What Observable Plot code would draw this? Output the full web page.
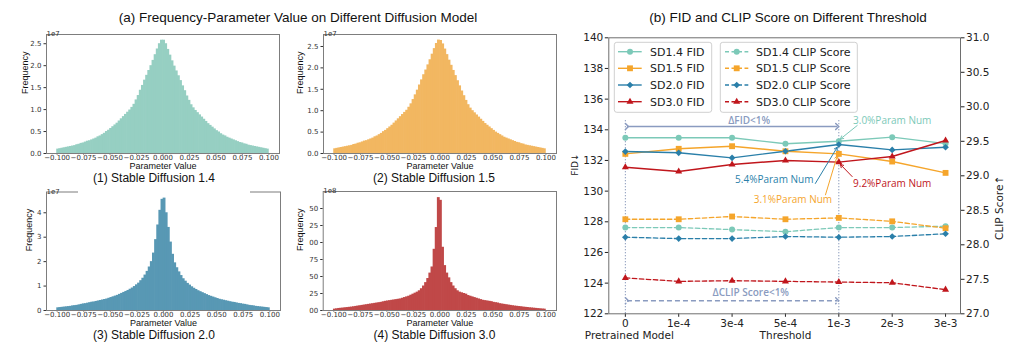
<!DOCTYPE html>
<html><head><meta charset="utf-8">
<script src="https://cdn.jsdelivr.net/npm/d3@7"></script>
<script src="https://cdn.jsdelivr.net/npm/@observablehq/plot@0.6"></script>
<style>
html,body{margin:0;padding:0;background:#fff;}
#page{position:relative;width:1032px;height:355px;overflow:hidden;background:#fff;}
.title{position:absolute;font-family:"Liberation Sans",Arial,sans-serif;font-size:13.5px;color:#111;white-space:nowrap;transform:translate(-50%,-50%);line-height:1.15;}
</style></head>
<body><div id="page"></div>
<script>
// ---------------- DATA ----------------
// Histograms: 100 bins of width 0.002 from -0.1 to 0.1
const binStart = -0.1, binWidth = 0.002;
const paramTicks = [-0.1, -0.075, -0.05, -0.025, 0, 0.025, 0.05, 0.075, 0.1];
// SD1.4 (x1e7)
const freqSD14 = [0.10,0.11,0.12,0.13,0.14,0.15,0.16,0.17,0.18,0.20,0.21,0.23,0.24,0.26,0.28,0.29,0.31,0.33,0.35,0.38,
  0.40,0.43,0.46,0.50,0.53,0.57,0.61,0.65,0.69,0.74,0.79,0.84,0.89,0.94,0.99,1.05,1.12,1.22,1.32,1.44,
  1.55,1.67,1.78,1.89,2.00,2.12,2.25,2.38,2.50,2.58,
  2.58,2.50,2.37,2.24,2.11,1.99,1.88,1.77,1.66,1.54,1.43,1.31,1.21,1.11,1.04,0.98,0.93,0.88,0.83,0.78,
  0.73,0.68,0.64,0.60,0.56,0.52,0.49,0.45,0.42,0.40,0.37,0.35,0.33,0.31,0.29,0.27,0.25,0.24,0.22,0.21,
  0.19,0.18,0.17,0.16,0.15,0.14,0.13,0.12,0.11,0.10];
// SD1.5 (x1e7)
const freqSD15 = [0.11,0.12,0.13,0.14,0.15,0.16,0.17,0.18,0.19,0.21,0.22,0.24,0.25,0.27,0.29,0.30,0.32,0.34,0.36,0.39,
  0.41,0.44,0.47,0.51,0.54,0.58,0.62,0.66,0.71,0.76,0.81,0.86,0.91,0.96,1.01,1.08,1.16,1.26,1.37,1.48,
  1.60,1.72,1.84,1.95,2.07,2.19,2.32,2.45,2.57,2.65,
  2.64,2.56,2.44,2.31,2.18,2.06,1.94,1.82,1.70,1.58,1.46,1.35,1.24,1.14,1.06,1.00,0.95,0.90,0.85,0.80,
  0.75,0.70,0.66,0.62,0.58,0.54,0.50,0.47,0.44,0.41,0.38,0.36,0.34,0.32,0.30,0.28,0.26,0.25,0.23,0.22,
  0.20,0.19,0.18,0.17,0.16,0.15,0.14,0.13,0.12,0.11];
// SD2.0 (x1e7)
const freqSD20 = [0.11,0.12,0.13,0.14,0.15,0.16,0.17,0.19,0.20,0.21,0.23,0.25,0.27,0.28,0.30,0.32,0.34,0.35,0.37,0.39,
  0.41,0.43,0.45,0.47,0.50,0.53,0.56,0.59,0.62,0.66,0.70,0.74,0.78,0.82,0.87,0.92,0.98,1.05,1.12,1.22,
  1.32,1.45,1.60,1.78,2.00,2.35,2.90,3.50,4.10,4.55,
  4.60,4.00,3.40,2.80,2.30,1.95,1.75,1.58,1.43,1.30,1.20,1.11,1.04,0.97,0.91,0.86,0.81,0.77,0.73,0.69,
  0.65,0.61,0.58,0.55,0.52,0.49,0.46,0.44,0.42,0.40,0.38,0.36,0.34,0.33,0.31,0.29,0.28,0.26,0.25,0.23,
  0.21,0.20,0.19,0.17,0.16,0.15,0.14,0.13,0.12,0.11];
// SD3.0 (x1e8)
const freqSD30 = [0.020,0.025,0.030,0.033,0.036,0.040,0.043,0.047,0.050,0.055,0.060,0.065,0.070,0.075,0.080,0.085,0.090,0.095,0.100,0.105,
  0.110,0.115,0.120,0.128,0.135,0.140,0.145,0.150,0.155,0.160,0.165,0.170,0.180,0.190,0.200,0.210,0.225,0.240,0.255,0.270,
  0.290,0.320,0.360,0.410,0.470,0.550,0.640,0.900,1.220,1.660,
  1.620,0.930,0.660,0.550,0.480,0.410,0.360,0.320,0.290,0.270,0.260,0.250,0.240,0.220,0.210,0.200,0.190,0.180,0.170,0.160,
  0.150,0.145,0.140,0.135,0.130,0.120,0.115,0.110,0.100,0.095,0.090,0.085,0.080,0.075,0.070,0.065,0.062,0.058,0.055,0.050,
  0.047,0.044,0.040,0.037,0.034,0.031,0.028,0.025,0.022,0.020];
const yTicksSD14 = [0, 0.5, 1, 1.5, 2, 2.5];
const yTicksSD20 = [0, 1, 2, 3, 4];
const yTicksSD30 = [0, 0.25, 0.5, 0.75, 1, 1.25, 1.5];
const yLabelsSD30 = ["00", "25", "50", "75", "00", "25", "50"];

// Right chart
const thresholds = ["0", "1e-4", "3e-4", "5e-4", "1e-3", "2e-3", "3e-3"];
const fidTicks = [122, 124, 126, 128, 130, 132, 134, 136, 138, 140];
const clipTicks = [27.0, 27.5, 28.0, 28.5, 29.0, 29.5, 30.0, 30.5, 31.0];
const fidSD14 = [133.48, 133.48, 133.48, 133.09, 133.25, 133.52, 133.10];
const fidSD15 = [132.43, 132.76, 132.93, 132.60, 132.43, 131.93, 131.19];
const fidSD20 = [132.58, 132.50, 132.17, 132.60, 133.04, 132.69, 132.86];
const fidSD30 = [131.56, 131.28, 131.74, 132.00, 131.89, 132.26, 133.30];
const clipSD14 = [28.25, 28.25, 28.22, 28.19, 28.25, 28.25, 28.27];
const clipSD15 = [28.37, 28.37, 28.41, 28.37, 28.39, 28.34, 28.24];
const clipSD20 = [28.11, 28.09, 28.09, 28.12, 28.11, 28.12, 28.16];
const clipSD30 = [27.52, 27.47, 27.48, 27.47, 27.46, 27.45, 27.35];
const modelNames = ["SD1.4", "SD1.5", "SD2.0", "SD3.0"];
const paramNotes = ["3.0%Param Num", "3.1%Param Num", "5.4%Param Num", "9.2%Param Num"];

// ---------------- STYLE ----------------
const page = document.getElementById("page");
const COL = {"SD1.4": "#7cc9b8", "SD1.5": "#f5a52b", "SD2.0": "#2a7fa9", "SD3.0": "#c0161c"};
const SYM = {"SD1.4": ["circle", 3.0, d3.symbolCircle], "SD1.5": ["square", 3.3, d3.symbolSquare],
             "SD2.0": ["diamond2", 3.0, d3.symbolDiamond2], "SD3.0": ["triangle", 2.6, d3.symbolTriangle]};
const ANNO = "#8a9bc0";

function addTitle(text, cx, cy) {
  const d = document.createElement("div");
  d.className = "title"; d.textContent = text;
  d.style.left = cx + "px"; d.style.top = cy + "px";
  page.appendChild(d);
}
addTitle("(a) Frequency-Parameter Value on Different Diffusion Model", 298, 17.5);
addTitle("(b) FID and CLIP Score on Different Threshold", 788, 17.5);

function histogram(values, o) {
  const bins = values.map((v, i) => ({a: binStart + i * binWidth, b: binStart + (i + 1) * binWidth, v}));
  const W = 290, H = 192;
  const svg = Plot.plot({
    width: W, height: H,
    marginLeft: o.frame[0], marginRight: W - o.frame[1], marginTop: o.frame[2], marginBottom: H - o.frame[3],
    style: {background: "transparent", fontFamily: "DejaVu Sans", fontSize: "7px", color: "#333", overflow: "visible"},
    x: {domain: [-0.11, 0.11], ticks: paramTicks, tickFormat: d3.format(".3f"), tickSize: 1.5, tickPadding: 0, label: null},
    y: {domain: [0, o.ymax], ticks: o.yTicks, tickFormat: o.yFormat, tickSize: 2.5, tickPadding: 2.5, label: null},
    marks: [
      Plot.rect(bins, {x1: "a", x2: "b", y1: 0, y2: "v", fill: o.color, insetLeft: -0.35, insetRight: -0.35}),
      Plot.frame({stroke: "#7d7d7d", strokeWidth: 1}),
      Plot.text([o.exp], {text: d => d, frameAnchor: "top-left", dy: -3, textAnchor: "start", fontSize: 7, fill: "#333"}),
      Plot.text(["Frequency"], {text: d => d, frameAnchor: "left", dx: o.freqDx, rotate: -90, fontFamily: "Liberation Sans", fontSize: 9, fill: "#111"}),
      Plot.text(["Parameter Value"], {text: d => d, frameAnchor: "bottom", dy: 15.3, fontFamily: "Liberation Sans", fontSize: 9, fill: "#111"}),
      Plot.text([o.subtitle], {text: d => d, frameAnchor: "bottom", dx: o.subDx, dy: 28, fontFamily: "Liberation Sans", fontSize: 12, fill: "#111"})
    ]
  });
  svg.style.position = "absolute"; svg.style.left = o.left + "px"; svg.style.top = o.top + "px";
  page.appendChild(svg);
}

histogram(freqSD14, {left: 0, top: 0, frame: [46, 279, 34, 153], ymax: 2.71, yTicks: yTicksSD14, yFormat: d3.format(".1f"),
  color: "#96cfc2", exp: "1e7", freqDx: -21, subDx: -9, subtitle: "(1) Stable Diffusion 1.4"});
histogram(freqSD15, {left: 280, top: 0, frame: [43, 276, 34, 153], ymax: 2.78, yTicks: yTicksSD14, yFormat: d3.format(".1f"),
  color: "#f2b761", exp: "1e7", freqDx: -23, subDx: -6, subtitle: "(2) Stable Diffusion 1.5"});
histogram(freqSD20, {left: 0, top: 160, frame: [46, 280, 31.5, 150], ymax: 4.85, yTicks: yTicksSD20, yFormat: d3.format("d"),
  color: "#5898b4", exp: "1e7", freqDx: -17, subDx: -9.5, subtitle: "(3) Stable Diffusion 2.0"});
histogram(freqSD30, {left: 280, top: 160, frame: [42.7, 276, 31, 150], ymax: 1.75, yTicks: yTicksSD30, yFormat: (d, i) => yLabelsSD30[i],
  color: "#c04848", exp: "1e8", freqDx: -22.7, subDx: -5.4, subtitle: "(4) Stable Diffusion 3.0"});

// gap in panel 3's top border (covered by the subtitle above it)
const gap = document.createElement("div");
gap.style.cssText = "position:absolute;left:78px;top:189.5px;width:172px;height:4px;background:#fff;";
page.appendChild(gap);

// ---------------- RIGHT CHART ----------------
const rc = document.createElement("div");
rc.style.cssText = "position:absolute;left:566px;top:0;width:466px;height:355px;overflow:hidden;";
page.appendChild(rc);
const RW = 466, RH = 355;
const M = {marginLeft: 42.3, marginRight: 72, marginTop: 37.3, marginBottom: 41.7};
const xDom = [-0.31, 6.28];
const fidSeries = {"SD1.4": fidSD14, "SD1.5": fidSD15, "SD2.0": fidSD20, "SD3.0": fidSD30};
const clipSeries = {"SD1.4": clipSD14, "SD1.5": clipSD15, "SD2.0": clipSD20, "SD3.0": clipSD30};
const pts = arr => arr.map((v, i) => ({i, v}));

// annotation placements (data units)
const noteLayout = {
  "3.0%Param Num": {c: COL["SD1.4"], tx: 5.0, ty: 134.56, x1: 4.345, y1: 134.28, x2: 4.03, y2: 133.40},
  "3.1%Param Num": {c: COL["SD1.5"], tx: 3.14, ty: 129.45, x1: 3.75, y1: 129.76, x2: 3.97, y2: 132.30},
  "5.4%Param Num": {c: COL["SD2.0"], tx: 2.79, ty: 130.76, x1: 3.56, y1: 130.50, x2: 3.97, y2: 132.86},
  "9.2%Param Num": {c: COL["SD3.0"], tx: 5.0, ty: 130.48, x1: 4.25, y1: 130.95, x2: 4.03, y2: 131.74}
};

const fidPlot = Plot.plot({
  width: RW, height: RH, ...M,
  style: {background: "transparent", fontFamily: "DejaVu Sans", fontSize: "10.5px", color: "#222", overflow: "visible"},
  x: {domain: xDom, ticks: d3.range(thresholds.length), tickFormat: i => thresholds[i], tickSize: 3.5, tickPadding: 2, label: null},
  y: {domain: [122, 140], ticks: fidTicks, tickSize: 3.5, tickPadding: 2, label: null},
  marks: [
    Plot.ruleX([0, 4], {y1: 122, y2: 134.67, stroke: "#7f90b5", strokeWidth: 1, strokeDasharray: "1.2,1.8"}),
    Plot.link([0], {x1: 0.03, x2: 3.97, y1: 134.21, y2: 134.21, markerStart: "arrow", markerEnd: "arrow", stroke: ANNO, strokeWidth: 1.5}),
    Plot.text(["ΔFID<1%"], {text: d => d, x: 2.32, y: 134.56, fill: ANNO, fontFamily: "Open Sans", fontWeight: 600, fontSize: 10}),
    ...modelNames.map(k => Plot.line(pts(fidSeries[k]), {x: "i", y: "v", stroke: COL[k], strokeWidth: 1.4})),
    ...modelNames.map(k => Plot.dot(pts(fidSeries[k]), {x: "i", y: "v", fill: COL[k], symbol: SYM[k][0], r: SYM[k][1]})),
    ...paramNotes.flatMap(n => {
      const L = noteLayout[n];
      return [
        Plot.arrow([n], {x1: L.x1, y1: L.y1, x2: L.x2, y2: L.y2, stroke: L.c, strokeWidth: 1, headLength: 5}),
        Plot.text([n], {text: d => d, x: L.tx, y: L.ty, fill: L.c, fontFamily: "Open Sans", fontSize: 10})
      ];
    }),
    Plot.frame({stroke: "#6e6e6e", strokeWidth: 1}),
    Plot.text(["Pretrained Model"], {text: d => d, x: 0, frameAnchor: "bottom", dx: 4, dy: 25, fontSize: 10.5, fill: "#222"}),
    Plot.text(["Threshold"], {text: d => d, x: 3, frameAnchor: "bottom", dy: 25, fontSize: 10.5, fill: "#222"}),
    Plot.text(["FID↓"], {text: d => d, frameAnchor: "left", dx: -34, rotate: -90, fontSize: 9, fill: "#222"})
  ]
});
fidPlot.style.position = "absolute"; fidPlot.style.left = "0px"; fidPlot.style.top = "0px";
rc.appendChild(fidPlot);

const clipPlot = Plot.plot({
  width: RW, height: RH, ...M,
  style: {background: "transparent", fontFamily: "DejaVu Sans", fontSize: "10.5px", color: "#222", overflow: "visible"},
  x: {domain: xDom, axis: null},
  y: {domain: [27, 31], ticks: clipTicks, tickFormat: d3.format(".1f"), axis: "right", tickSize: 3.5, tickPadding: 2, label: null},
  marks: [
    Plot.link([0], {x1: 0.03, x2: 3.97, y1: 27.19, y2: 27.19, markerStart: "arrow", markerEnd: "arrow", stroke: ANNO, strokeWidth: 1.5, strokeDasharray: "5,3"}),
    Plot.text(["ΔCLIP Score<1%"], {text: d => d, x: 2.35, y: 27.31, fill: ANNO, fontFamily: "Open Sans", fontWeight: 600, fontSize: 10}),
    ...modelNames.map(k => Plot.line(pts(clipSeries[k]), {x: "i", y: "v", stroke: COL[k], strokeWidth: 1.3, strokeDasharray: "4.5,2.5"})),
    ...modelNames.map(k => Plot.dot(pts(clipSeries[k]), {x: "i", y: "v", fill: COL[k], symbol: SYM[k][0], r: SYM[k][1]})),
    Plot.text(["CLIP Score↑"], {text: d => d, frameAnchor: "right", dx: 39.3, rotate: -90, fontSize: 10.5, fill: "#222"})
  ]
});
clipPlot.style.position = "absolute"; clipPlot.style.left = "0px"; clipPlot.style.top = "0px";
rc.appendChild(clipPlot);

// ---------------- LEGEND ----------------
const leg = d3.create("svg").attr("width", 1032).attr("height", 355)
  .style("position", "absolute").style("left", "0px").style("top", "0px").style("pointer-events", "none");
const rows = [51.7, 68.3, 85, 101.7];
[[614.3, 97.4, 618, 641.7, 630, 650, " FID", null], [720.3, 137, 725, 748.3, 736.7, 756, " CLIP Score", "4,2.5"]]
  .forEach(([bx, bw, l1, l2, mx, tx, suffix, dash]) => {
    leg.append("rect").attr("x", bx).attr("y", 42.3).attr("width", bw).attr("height", 70).attr("rx", 2.5)
      .attr("fill", "#fff").attr("fill-opacity", 0.85).attr("stroke", "#d0d0d0").attr("stroke-width", 1);
    modelNames.forEach((k, j) => {
      const y = rows[j];
      leg.append("line").attr("x1", l1).attr("x2", l2).attr("y1", y).attr("y2", y)
        .attr("stroke", COL[k]).attr("stroke-width", 1.4).attr("stroke-dasharray", dash);
      leg.append("path").attr("transform", `translate(${mx},${y})`)
        .attr("d", d3.symbol(SYM[k][2], Math.PI * SYM[k][1] * SYM[k][1])()).attr("fill", COL[k]);
      leg.append("text").attr("x", tx).attr("y", y).attr("dy", "0.35em").attr("font-family", "DejaVu Sans")
        .attr("font-size", 11).attr("fill", "#222").text(k + suffix);
    });
  });
page.appendChild(leg.node());
</script>
</body></html>
